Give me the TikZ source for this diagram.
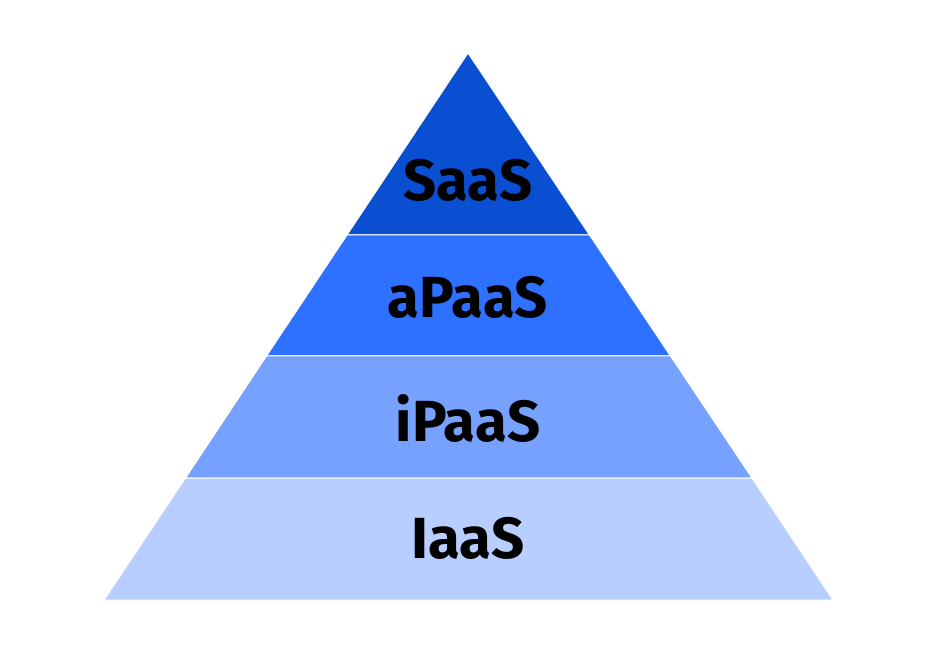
\documentclass[tikz,border=0pt]{standalone}
\usepackage{fontspec}
\setmainfont{Fira Sans}
\definecolor{c1}{HTML}{0A4ED2}
\definecolor{c2}{HTML}{2E70FF}
\definecolor{c3}{HTML}{76A1FF}
\definecolor{c4}{HTML}{B8CEFF}
\begin{document}
\begin{tikzpicture}[x=1pt,y=-1pt,
  layer/.style={draw=white,line width=1pt},
  lbl/.style={font=\fontsize{58}{60}\selectfont\bfseries,text=black,inner sep=0pt}]
\useasboundingbox (0,0) rectangle (948,652);
\fill[white] (0,0) rectangle (948,652);
\filldraw[layer,fill=c1] (468,53) -- (589.5,235) -- (347,235) -- cycle;
\filldraw[layer,fill=c2] (347,235) -- (589.5,235) -- (670.5,356) -- (266.5,356) -- cycle;
\filldraw[layer,fill=c3] (266.5,356) -- (670.5,356) -- (752,478) -- (185.5,478) -- cycle;
\filldraw[layer,fill=c4] (185.5,478) -- (752,478) -- (833,600) -- (104,600) -- cycle;
\node[lbl] (s) at (468,180) {SaaS};
\node[lbl] (a) at (468,297) {aPaaS};
\node[lbl] (i) at (468,418) {iPaaS};
\node[lbl] (ia) at (468,538) {IaaS};
\end{tikzpicture}
\end{document}
